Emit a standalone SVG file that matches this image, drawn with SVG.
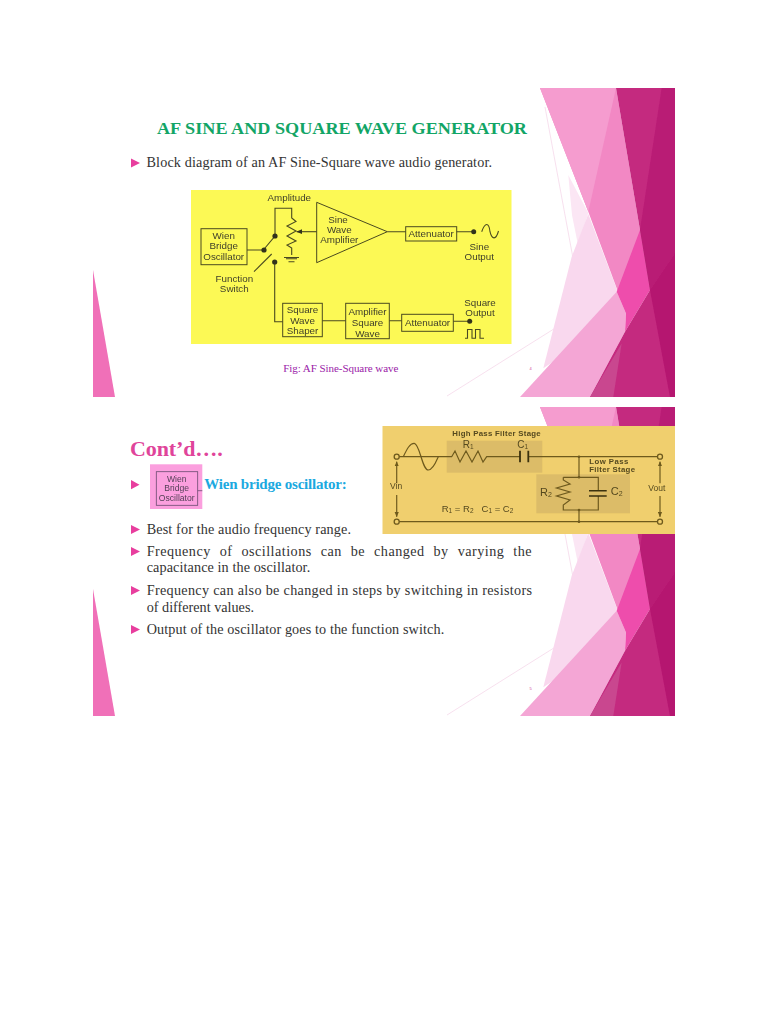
<svg xmlns="http://www.w3.org/2000/svg" xmlns:xlink="http://www.w3.org/1999/xlink" width="768" height="1024" viewBox="0 0 768 1024">
<style>
.s{font-family:"Liberation Serif","Times New Roman",serif}
.a{font-family:"Liberation Sans",Arial,sans-serif}
.b{font-size:14.2px;fill:#333}
.l1{font-size:9.8px;fill:#3f3f2a;text-anchor:middle}
.l2{font-size:7.8px;fill:#55491f}
.box{fill:none;stroke:#4a4a20;stroke-width:1}
.w1{fill:none;stroke:#4a4a20;stroke-width:1.1}
.w2{fill:none;stroke:#6e5a1e;stroke-width:1.2}
.d1{fill:#33331a}
.d2{fill:#6e5a1e}
.bu{fill:#e83e9e}
.page{font-size:4px;fill:#d0409a}
</style>
<defs>
<filter id="soft" x="-2%" y="-2%" width="104%" height="104%"><feGaussianBlur stdDeviation="0.35"/></filter>
<marker id="ar1" viewBox="0 0 6 6" refX="5.5" refY="3" markerWidth="6" markerHeight="6" orient="auto" markerUnits="userSpaceOnUse"><path d="M0 0.5L6 3L0 5.500z" fill="#33331a"/></marker>
<marker id="ar2" viewBox="0 0 6 6" refX="5.5" refY="3" markerWidth="5" markerHeight="5" orient="auto" markerUnits="userSpaceOnUse"><path d="M0 0.5L6 3L0 5.500z" fill="#6e5a1e"/></marker>
<g id="decor">
<polygon points="93,270 115,397 93,397" fill="#f06fb8"/>
<line x1="545" y1="107" x2="585" y2="323" stroke="#f3d3e6" stroke-width="0.7"/>
<line x1="447" y1="396" x2="675" y2="253" stroke="#f3d3e6" stroke-width="0.7"/>
<polygon points="568.300,175 588.300,213 578,245 572,215" fill="#fbe6f4"/>
<polygon points="588.300,214 626,313.300 543.300,368.300 571.700,256.700" fill="#f9d8ee"/>
<polygon points="540,88 616,88 640,230 650,290 626,313.300 588.300,211.700" fill="#f288c4"/>
<polygon points="540,88 616,88 588.300,211.700" fill="#f59ccf"/>
<polygon points="520,397 616.700,291.700 626,313.300 625,331.700 590,397" fill="#f4a6d5"/>
<polygon points="640,230 650,290 625,331.700 626,313.300 616.700,291.700" fill="#ee4dac"/>
<polygon points="616,88 675,88 675,397 590,397 625,331.700 650,290 640,230" fill="#c4297f"/>
<polygon points="661.700,88 675,88 675,253.300 650,290 640,230" fill="#b91c75"/>
<polygon points="675,253.300 675,397 670,397 650,290" fill="#b5156f"/>
<polygon points="590,397 621.700,343.300 613.300,397" fill="#c9478f"/>
</g>
</defs>
<rect width="768" height="1024" fill="#fff"/>
<g id="slide-1-decor" filter="url(#soft)"><use xlink:href="#decor" href="#decor"/></g>
<g id="slide-2-decor" filter="url(#soft)"><use xlink:href="#decor" href="#decor" y="319"/></g>

<text id="title" class="s" x="157" y="134" font-size="16.200" font-weight="700" fill="#12a566" textLength="370" lengthAdjust="spacingAndGlyphs">AF SINE AND SQUARE WAVE GENERATOR</text>
<polygon class="bu" points="131,158.500 140,163 131,167.500"/>
<text class="s b" x="146.500" y="166.500" textLength="345.500" lengthAdjust="spacing">Block diagram of an AF Sine-Square wave audio generator.</text>

<g id="figure-1" filter="url(#soft)">
<rect x="191" y="190" width="320.500" height="154" fill="#fcf955"/>
<g id="connectors-1">
<path class="w1" d="M247 250H263.300L275 236V208.300H291.700V218L296 221.500L287 226L296 231L287 236L296 241L287 245L291.700 248V255"/>
<path class="w1" d="M284 257.500H299M286 258.700H297M288.500 261.700H294.500"/>
<path class="w1" d="M254 271.700L271.700 254"/>
<path class="w1" d="M316.700 231.700H296.700" marker-end="url(#ar1)"/>
<path class="w1" d="M387.300 231.700H405.700M456.700 231.700H473.700"/>
<path class="w1" d="M274.700 262V321.700H282.700M322.300 320.700H345.700M389.300 320.700H401.700M453.300 321.300H469.700"/>
<path class="w1" d="M481.700 231.700C485 222 489 222 490 231.700C492 240 496 240 498.500 231"/>
<path class="w1" d="M465 338.300H467.500V329.500H472V338.300H475.500V329.500H480V338.300H484"/>
<circle class="d1" cx="264" cy="250" r="2.600"/><circle class="d1" cx="275" cy="236" r="2.600"/><circle class="d1" cx="274.700" cy="262" r="2.600"/><circle class="d1" cx="473.700" cy="231.700" r="2.500"/><circle class="d1" cx="469.700" cy="321.300" r="2.500"/>
</g>
<g id="wien-bridge-oscillator"><rect class="box" x="201" y="228.700" width="46" height="36"/><text class="a l1" x="223.700" y="238.500">Wien</text><text class="a l1" x="223.700" y="249.300">Bridge</text><text class="a l1" x="223.700" y="260">Oscillator</text></g>
<g id="amplitude"><text class="a l1" x="289.300" y="201.300">Amplitude</text></g>
<g id="function-switch"><text class="a l1" x="234.300" y="282">Function</text><text class="a l1" x="234.300" y="292.300">Switch</text></g>
<g id="sine-wave-amplifier"><polygon class="box" points="316.700,202.300 387.300,231.700 316.700,262.700"/><text class="a l1" x="338" y="222.800">Sine</text><text class="a l1" x="339.300" y="233">Wave</text><text class="a l1" x="339.300" y="243.200">Amplifier</text></g>
<g id="attenuator-sine"><rect class="box" x="405.700" y="226.700" width="51" height="14.300"/><text class="a l1" x="431.200" y="237">Attenuator</text></g>
<g id="sine-output"><text class="a l1" x="479.300" y="249.500">Sine</text><text class="a l1" x="479.300" y="259.500">Output</text></g>
<g id="square-wave-shaper"><rect class="box" x="282.700" y="303.300" width="39.600" height="33.400"/><text class="a l1" x="302.500" y="313">Square</text><text class="a l1" x="302.500" y="323.500">Wave</text><text class="a l1" x="302.500" y="334">Shaper</text></g>
<g id="amplifier-square-wave"><rect class="box" x="345.700" y="303.300" width="43.600" height="35.400"/><text class="a l1" x="367.500" y="315">Amplifier</text><text class="a l1" x="367.500" y="326">Square</text><text class="a l1" x="367.500" y="336.500">Wave</text></g>
<g id="attenuator-square"><rect class="box" x="401.700" y="314.300" width="51.600" height="17"/><text class="a l1" x="427.500" y="326">Attenuator</text></g>
<g id="square-output"><text class="a l1" x="480" y="306">Square</text><text class="a l1" x="480" y="316">Output</text></g>
</g>
<text id="caption" class="s" x="283.300" y="371.700" font-size="11" fill="#9a22a8" textLength="115" lengthAdjust="spacing">Fig: AF Sine-Square wave</text>
<text class="a page" x="529.500" y="370">4</text>

<text id="heading-2" class="s" x="130" y="456" font-size="22" font-weight="700" fill="#e0449a" textLength="92.700" lengthAdjust="spacing">Cont’d….</text>
<polygon class="bu" points="131,480 139.500,484.700 131,489.300"/>
<g id="wien-chip">
<rect x="150" y="464.300" width="52.300" height="44.700" fill="#fb9fde"/>
<rect x="156.300" y="471.700" width="41.400" height="33.600" fill="none" stroke="#6a4a70" stroke-width="0.8"/>
<line x1="197.700" y1="490.700" x2="202.300" y2="490.700" stroke="#6a4a70" stroke-width="0.8"/>
<g class="a" font-size="8.600" fill="#554058" text-anchor="middle" filter="url(#soft)"><text x="176.700" y="481.700">Wien</text><text x="176.700" y="491.300">Bridge</text><text x="176.700" y="501">Oscillator</text></g>
</g>
<text class="s" x="204.300" y="489" font-size="15" font-weight="700" fill="#1ba9e0" textLength="142.400" lengthAdjust="spacing">Wien bridge oscillator:</text>

<g id="figure-2" filter="url(#soft)">
<rect x="382.500" y="426" width="292.500" height="108" fill="#f0cf6e"/>
<rect x="446.700" y="440.700" width="95.600" height="32" fill="#dcbc68"/>
<rect x="536.300" y="474.300" width="93.700" height="39" fill="#dcbc68"/>
<g id="connectors-2">
<path class="w2" d="M396.700 456.700H451.700L455 451L460 462L466 451L472 462L478 451L483 462L486.700 456.700H520M528.300 456.700H660"/>
<path d="M520 450.700V462.300M528.300 450.700V462.300" fill="none" stroke="#3a3010" stroke-width="1.800"/>
<path class="w2" d="M403.300 456.700C407 449 410 443 414.300 443.300C420 444 422 470 428.300 470C433 470 436 462 438.300 456.700"/>
<path class="w2" d="M396.700 521.700H660M579 456.700V477.300M579 510V521.700"/>
<path class="w2" d="M563.300 477.300H598.300V490.700M598.300 496V510H563.300L563.300 505L570 500L556.500 496L570 492L556.500 488L570 484L563.300 480V477.300"/>
<path d="M589 490.700H606.700M589 496H606.700" fill="none" stroke="#3a3010" stroke-width="1.600"/>
<path class="w2" d="M396.700 483.300V461.700" marker-end="url(#ar2)"/><path class="w2" d="M396.700 495V516.700" marker-end="url(#ar2)"/>
<path class="w2" d="M660 483.300V461.700" marker-end="url(#ar2)"/><path class="w2" d="M660 496V516.700" marker-end="url(#ar2)"/>
<g fill="#f0cf6e" stroke="#6e5a1e" stroke-width="1.300"><circle cx="396.700" cy="456.700" r="2.500"/><circle cx="660" cy="456.700" r="2.500"/><circle cx="396.700" cy="521.700" r="2.500"/><circle cx="660" cy="521.700" r="2.500"/></g>
<circle class="d2" cx="579" cy="456.700" r="1.300"/><circle class="d2" cx="579" cy="477.300" r="1.300"/><circle class="d2" cx="579" cy="510" r="1.300"/><circle class="d2" cx="579" cy="521.700" r="1.300"/>
</g>
<g class="a">
<text class="l2" x="452.300" y="436" font-weight="700" textLength="88.400" lengthAdjust="spacing">High Pass Filter Stage</text>
<text class="l2" x="462.700" y="448.300" style="font-size:10px">R<tspan font-size="6.500" dy="1">1</tspan></text>
<text class="l2" x="517.300" y="448.300" style="font-size:10px">C<tspan font-size="6.500" dy="1">1</tspan></text>
<text class="l2" x="589.300" y="464" font-weight="700" textLength="39" lengthAdjust="spacing">Low Pass</text>
<text class="l2" x="589.300" y="472" font-weight="700" textLength="45.700" lengthAdjust="spacing">Filter Stage</text>
<text class="l2" x="540" y="496" style="font-size:11px">R<tspan font-size="7" dy="1">2</tspan></text>
<text class="l2" x="610.700" y="495" style="font-size:11px">C<tspan font-size="7" dy="1">2</tspan></text>
<text class="l2" x="390" y="489.300" style="font-size:8.500px">Vin</text>
<text class="l2" x="648.300" y="491" style="font-size:8.500px">Vout</text>
<text class="l2" x="441.700" y="511.700" style="font-size:9.500px">R<tspan font-size="6.500" dy="1">1</tspan><tspan dy="-1"> = R</tspan><tspan font-size="6.500" dy="1">2</tspan><tspan dy="-1" dx="8">C</tspan><tspan font-size="6.500" dy="1">1</tspan><tspan dy="-1"> = C</tspan><tspan font-size="6.500" dy="1">2</tspan></text>
</g>
</g>

<polygon class="bu" points="131,525 140,529.500 131,534"/>
<text class="s b" x="146.700" y="534" textLength="204.300" lengthAdjust="spacing">Best for the audio frequency range.</text>
<polygon class="bu" points="131,547 140,551.500 131,556"/>
<text class="s b" x="146.700" y="555.700" word-spacing="5" textLength="384.800" lengthAdjust="spacing">Frequency of oscillations can be changed by varying the</text>
<text class="s b" x="146.700" y="572.300" textLength="163.500" lengthAdjust="spacing">capacitance in the oscillator.</text>
<polygon class="bu" points="131,586 140,590.500 131,595"/>
<text class="s b" x="146.700" y="595" textLength="385.300" lengthAdjust="spacing">Frequency can also be changed in steps by switching in resistors</text>
<text class="s b" x="146.700" y="611.700" textLength="107.300" lengthAdjust="spacing">of different values.</text>
<polygon class="bu" points="131,625 140,629.500 131,634"/>
<text class="s b" x="146.700" y="634" textLength="297.500" lengthAdjust="spacing">Output of the oscillator goes to the function switch.</text>
<text class="a page" x="529.500" y="690">5</text>
</svg>
